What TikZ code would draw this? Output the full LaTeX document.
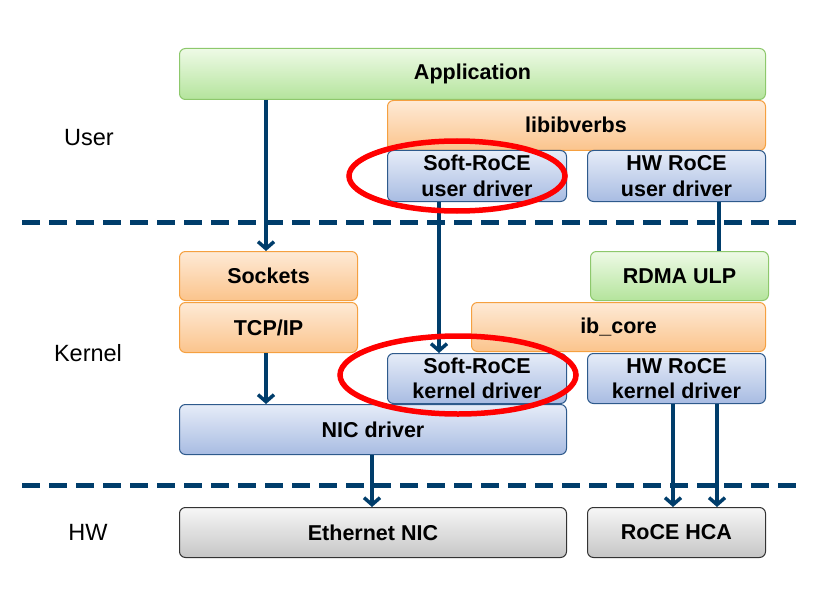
\documentclass[tikz,border=0pt]{standalone}
\usepackage{fontspec}
\setmainfont{Liberation Sans}
\usetikzlibrary{arrows.meta,shapes.geometric}
\definecolor{navy}{HTML}{003D6B}
\definecolor{gT}{HTML}{EEFAE6}\definecolor{gB}{HTML}{B4E49C}\definecolor{gD}{HTML}{8DC86C}
\definecolor{oT}{HTML}{FEEAD6}\definecolor{oB}{HTML}{FBC48C}\definecolor{oD}{HTML}{F5A040}
\definecolor{bT}{HTML}{E6ECF8}\definecolor{bB}{HTML}{A8BCE2}\definecolor{bD}{HTML}{2E5A8C}
\definecolor{yT}{HTML}{F6F6F6}\definecolor{yB}{HTML}{C6C6C6}\definecolor{yD}{HTML}{333333}
\tikzset{
  bx/.style={rectangle, rounded corners=6pt, anchor=north west, line width=1pt,
    font=\fontsize{21.5}{25.5}\selectfont\bfseries, align=center, inner sep=0pt, shading angle=0},
  gbox/.style={bx, draw=gD, top color=gT, bottom color=gB},
  obox/.style={bx, draw=oD, top color=oT, bottom color=oB},
  bbox/.style={bx, draw=bD, top color=bT, bottom color=bB},
  ybox/.style={bx, draw=yD, top color=yT, bottom color=yB},
  conn/.style={draw=navy, line width=3.5pt},
  arr/.style={conn, -{Straight Barb[length=7pt,width=16pt,line width=3.5pt]}},
  sep/.style={draw=navy, line width=5pt, dash pattern=on 18pt off 9pt},
  lay/.style={font=\fontsize{23.5}{28}\selectfont},
  ring/.style={draw=red, line width=5.5pt, ellipse}
}
\begin{document}
\begin{tikzpicture}[x=1pt,y=-1pt]
\useasboundingbox (0,0) rectangle (821,604);
% separators
\coordinate (s1a) at (22,222); \coordinate (s1b) at (800,222);
\coordinate (s2a) at (22,485); \coordinate (s2b) at (800,485);
\draw[sep] (s1a) -- (s1b);
\draw[sep] (s2a) -- (s2b);
% layer labels
\node[lay] (user) at (89,138) {User};
\node[lay] (kernel) at (88,353) {Kernel};
\node[lay] (hw) at (88,532) {HW};
% boxes
\node[gbox, minimum width=586pt, minimum height=51pt] (app) at (179,48) {Application};
\node[obox, minimum width=378pt, minimum height=50pt] (verbs) at (387,100) {};
\node[font=\fontsize{21.5}{25.5}\selectfont\bfseries] at (576,125) {libibverbs};
\node[bbox, minimum width=179pt, minimum height=51pt] (sru) at (387,150) {Soft-RoCE\\user driver};
\node[bbox, minimum width=178pt, minimum height=51pt] (hwu) at (587,150) {HW RoCE\\user driver};
\node[obox, minimum width=178pt, minimum height=49pt] (sock) at (179,251) {Sockets};
\node[obox, minimum width=178pt, minimum height=50pt] (tcp) at (179,302) {TCP/IP};
\node[gbox, minimum width=178pt, minimum height=49pt] (ulp) at (590,251) {RDMA ULP};
\node[obox, minimum width=294pt, minimum height=49pt] (ib) at (471,302) {ib\_core};
\node[bbox, minimum width=179pt, minimum height=50pt] (srk) at (387,353) {Soft-RoCE\\kernel driver};
\node[bbox, minimum width=178pt, minimum height=50pt] (hwk) at (587,353) {HW RoCE\\kernel driver};
\node[bbox, minimum width=387pt, minimum height=50pt] (nic) at (179,404) {NIC driver};
\node[ybox, minimum width=387pt, minimum height=50pt] (eth) at (179,507) {Ethernet NIC};
\node[ybox, minimum width=178pt, minimum height=50pt] (hca) at (587,507) {RoCE HCA};
% connectors
\draw[arr] (app.south -| 266,0) -- (sock.north -| 266,0);
\draw[arr] (sru.south -| 439,0) -- (srk.north -| 439,0);
\draw[conn] (hwu.south -| 719,0) -- (ulp.north -| 719,0);
\draw[arr] (tcp.south -| 266,0) -- (nic.north -| 266,0);
\draw[arr] (nic.south -| 372,0) -- (eth.north -| 372,0);
\draw[arr] (hwk.south -| 673,0) -- (hca.north -| 673,0);
\draw[arr] (hwk.south -| 717,0) -- (hca.north -| 717,0);
% highlight rings
\node[ring, minimum width=216pt, minimum height=70pt] (r1) at (457,176) {};
\node[ring, minimum width=236pt, minimum height=78pt] (r2) at (458,375) {};
\end{tikzpicture}
\end{document}
